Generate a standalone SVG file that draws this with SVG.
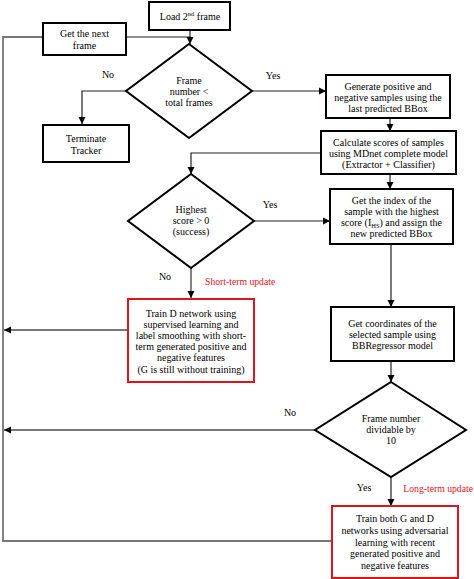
<svg xmlns="http://www.w3.org/2000/svg" width="474" height="579" viewBox="0 0 474 579">
<style>
.box{fill:#fff;stroke:#000;stroke-width:2}
.red{fill:#fff;stroke:#e0141c;stroke-width:2}
.t{font-family:"Liberation Serif","Times New Roman",serif;font-size:10px;fill:#000;text-anchor:middle}
.rt{font-family:"Liberation Serif","Times New Roman",serif;font-size:9.7px;fill:#e0141c}
.c{fill:none;stroke:#222;stroke-width:1.2}
.g{fill:none;stroke:#777;stroke-width:1.8}
</style>
<defs>
<marker id="ah" markerWidth="8" markerHeight="8" refX="7" refY="4" orient="auto" markerUnits="userSpaceOnUse">
<path d="M0,0.5 L7,4 L0,7.5 Z" fill="#000"/>
</marker>
</defs>
<rect width="474" height="579" fill="#fff"/>
<g id="connectors">
<path class="g" d="M332,541 L3,541 L3,37 L43,37"/>
<path class="c" d="M126,37 L190,37"/>
<path class="c" d="M190,30 L190,44" marker-end="url(#ah)"/>
<path class="c" d="M126,91 L82,91 L82,124" marker-end="url(#ah)"/>
<path class="c" d="M252,91 L326,91" marker-end="url(#ah)"/>
<path class="c" d="M390,118 L390,131" marker-end="url(#ah)"/>
<path class="c" d="M321,153 L191,153 L191,174" marker-end="url(#ah)"/>
<path class="c" d="M390,174 L390,189" marker-end="url(#ah)"/>
<path class="c" d="M254,221 L330,221" marker-end="url(#ah)"/>
<path class="g" d="M191,268 L191,298" marker-end="url(#ah)"/>
<path class="g" d="M128,330 L4,330" marker-end="url(#ah)"/>
<path class="c" d="M391,244 L391,307" marker-end="url(#ah)"/>
<path class="c" d="M391,361 L391,382" marker-end="url(#ah)"/>
<path class="g" d="M315,430 L4,430" marker-end="url(#ah)"/>
<path class="c" d="M391,477 L391,506" marker-end="url(#ah)"/>
</g>
<g id="labels">
<text class="t" x="108" y="78">No</text>
<text class="t" x="273" y="79">Yes</text>
<text class="t" x="270" y="208">Yes</text>
<text class="t" x="165" y="280">No</text>
<text class="rt" x="205" y="285">Short-term update</text>
<text class="t" x="290" y="416">No</text>
<text class="t" x="364" y="491">Yes</text>
<text class="rt" x="473" y="492" text-anchor="end">Long-term update</text>
</g>
<g id="load">
<rect class="box" x="149" y="2" width="81" height="28"/>
<text class="t" x="190" y="20">Load 2<tspan font-size="6.5" dy="-4">nd</tspan><tspan dy="4"> frame</tspan></text>
</g>
<g id="next">
<rect class="box" x="43" y="23" width="83" height="32"/>
<text class="t" x="84.5" y="37">Get the next</text>
<text class="t" x="84.5" y="49">frame</text>
</g>
<g id="d1">
<polygon class="box" points="189,44 252,91 189,138 126,91"/>
<text class="t" x="189" y="84">Frame</text>
<text class="t" x="189" y="95">number &lt;</text>
<text class="t" x="189" y="106">total frames</text>
</g>
<g id="terminate">
<rect class="box" x="43" y="125" width="86" height="37"/>
<text class="t" x="86" y="142">Terminate</text>
<text class="t" x="86" y="154">Tracker</text>
</g>
<g id="generate">
<rect class="box" x="326" y="75" width="124" height="43"/>
<text class="t" x="388" y="90">Generate positive and</text>
<text class="t" x="388" y="101">negative samples using the</text>
<text class="t" x="388" y="112">last predicted BBox</text>
</g>
<g id="calculate">
<rect class="box" x="321" y="131" width="135" height="43"/>
<text class="t" x="388.5" y="146">Calculate scores of samples</text>
<text class="t" x="388.5" y="157">using MDnet complete model</text>
<text class="t" x="388.5" y="168">(Extractor + Classifier)</text>
</g>
<g id="d2">
<polygon class="box" points="191,174 254,221 191,268 128,221"/>
<text class="t" x="191" y="213">Highest</text>
<text class="t" x="191" y="224">score &gt; 0</text>
<text class="t" x="191" y="235">(success)</text>
</g>
<g id="index">
<rect class="box" x="330" y="189" width="123" height="55"/>
<text class="t" x="391.5" y="204">Get the index of the</text>
<text class="t" x="391.5" y="215">sample with the highest</text>
<text class="t" x="391.5" y="226">score (I<tspan font-size="6.5" dy="2">HS</tspan><tspan dy="-2">) and assign the</tspan></text>
<text class="t" x="391.5" y="237">new predicted BBox</text>
</g>
<g id="shortterm">
<rect class="red" x="128" y="299" width="126" height="83"/>
<text class="t" x="191" y="317">Train D network using</text>
<text class="t" x="191" y="328">supervised learning and</text>
<text class="t" x="191" y="339">label smoothing with short-</text>
<text class="t" x="191" y="350">term generated positive and</text>
<text class="t" x="191" y="361">negative features</text>
<text class="t" x="191" y="373">(G is still without training)</text>
</g>
<g id="coords">
<rect class="box" x="331" y="307" width="123" height="54"/>
<text class="t" x="392.5" y="327">Get coordinates of the</text>
<text class="t" x="392.5" y="338">selected sample using</text>
<text class="t" x="392.5" y="349">BBRegressor model</text>
</g>
<g id="d3">
<polygon class="box" points="391,382 466,430 391,477 315,430"/>
<text class="t" x="391" y="422">Frame number</text>
<text class="t" x="391" y="433">dividable by</text>
<text class="t" x="391" y="444">10</text>
</g>
<g id="longterm">
<rect class="red" x="332" y="506" width="126" height="72"/>
<text class="t" x="395" y="522">Train both G and D</text>
<text class="t" x="395" y="534">networks using adversarial</text>
<text class="t" x="395" y="546">learning with recent</text>
<text class="t" x="395" y="557">generated positive and</text>
<text class="t" x="395" y="569">negative features</text>
</g>
</svg>
